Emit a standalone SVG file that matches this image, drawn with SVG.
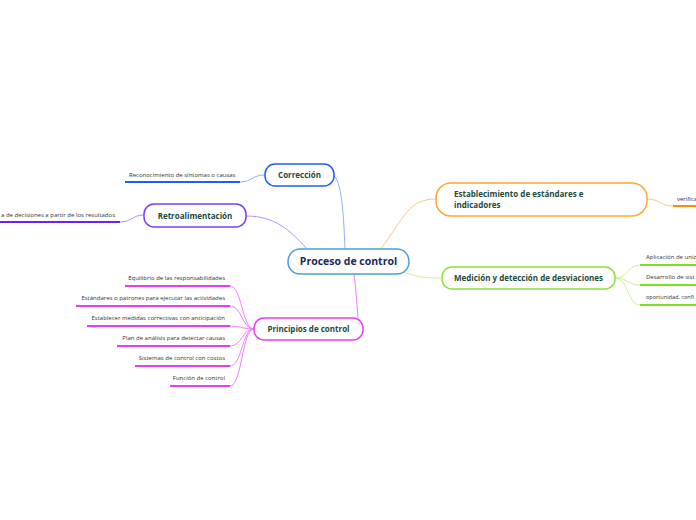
<svg xmlns="http://www.w3.org/2000/svg" width="696" height="520" viewBox="0 0 696 520">
<style>
text{font-family:"Open Sans","Noto Sans","Liberation Sans",sans-serif;}
.leaf{font-size:6px;fill:#333333;}
.node{font-size:8px;font-weight:bold;fill:#1d4a3a;}
.center{font-size:10.5px;font-weight:bold;fill:#1b2a55;}
.box{fill:#ffffff;stroke-width:1.5;}
.c{fill:none;stroke-width:1;}
.ul{fill:none;stroke-width:2;}
</style>
<rect width="696" height="520" fill="#ffffff"/>
<g id="connectors">
  <path class="c" stroke="#8fb0ff" d="M334 176 C343 182,344 230,345 249"/>
  <path class="c" stroke="#b98cff" d="M246 216 C275 216,290 230,307 249"/>
  <path class="c" stroke="#f27cff" d="M354 274 C356 290,357 305,358 318"/>
  <path class="c" stroke="#ffc77a" d="M381 249 C405 215,410 199,436 199"/>
  <path class="c" stroke="#c6f29a" d="M403 272 C420 278,430 278,442 278"/>
  <path class="c" stroke="#8fb0ff" d="M240 182 C252 182,252 175,265 175"/>
  <path class="c" stroke="#b98cff" d="M120 222 C132 222,132 215,144 215"/>
  <path class="c" stroke="#f27cff" d="M230 286 C242 286,242 329,254 329"/>
  <path class="c" stroke="#f27cff" d="M230 306 C242 306,242 329,254 329"/>
  <path class="c" stroke="#f27cff" d="M230 326 C242 326,242 329,254 329"/>
  <path class="c" stroke="#f27cff" d="M230 346 C242 346,242 329,254 329"/>
  <path class="c" stroke="#f27cff" d="M230 366 C242 366,242 329,254 329"/>
  <path class="c" stroke="#f27cff" d="M230 386 C242 386,242 329,254 329"/>
  <path class="c" stroke="#ffc77a" d="M647 199 C660 199,660 206,673 206"/>
  <path class="c" stroke="#c6f29a" d="M615 278 C628 278,628 265,640 265"/>
  <path class="c" stroke="#c6f29a" d="M615 278 C628 278,628 285,640 285"/>
  <path class="c" stroke="#c6f29a" d="M615 278 C628 278,628 305,640 305"/>
</g>
<g id="center">
  <rect class="box" x="288" y="249" width="121" height="25" rx="12" stroke="#4c9fd9"/>
  <text class="center" x="348.5" y="265" text-anchor="middle">Proceso de control</text>
</g>
<g id="correccion">
  <rect class="box" x="265" y="164" width="69" height="22" rx="10" stroke="#1f5cff"/>
  <text class="node" x="299.5" y="178" text-anchor="middle">Corrección</text>
</g>
<g id="correccion-leaf">
  <line class="ul" x1="125" y1="182" x2="240" y2="182" stroke="#1f5cff"/>
  <text class="leaf" x="129" y="177">Reconocimiento de síntomas o causas</text>
</g>
<g id="retroalimentacion">
  <rect class="box" x="144" y="204" width="102" height="23" rx="10" stroke="#7a3cff"/>
  <text class="node" x="195" y="218.5" text-anchor="middle">Retroalimentación</text>
</g>
<g id="retro-leaf">
  <line class="ul" x1="-2" y1="222" x2="120" y2="222" stroke="#6a1fff"/>
  <text class="leaf" x="115" y="217" text-anchor="end">a de decisiones a partir de los resultados</text>
</g>
<g id="principios">
  <rect class="box" x="254" y="318" width="109" height="22" rx="10" stroke="#e63cf5"/>
  <text class="node" x="308.5" y="332" text-anchor="middle">Principios de control</text>
</g>
<g id="principios-leaves">
  <line class="ul" x1="125" y1="286" x2="230" y2="286" stroke="#e63cf5"/>
  <text class="leaf" x="225" y="280" text-anchor="end">Equilibrio de las responsabilidades</text>
  <line class="ul" x1="76" y1="306" x2="230" y2="306" stroke="#e63cf5"/>
  <text class="leaf" x="225" y="300" text-anchor="end">Estándares o patrones para ejecutar las actividades</text>
  <line class="ul" x1="87" y1="326" x2="230" y2="326" stroke="#e63cf5"/>
  <text class="leaf" x="225" y="320" text-anchor="end">Establecer medidas correctivas con anticipación</text>
  <line class="ul" x1="117" y1="346" x2="230" y2="346" stroke="#e63cf5"/>
  <text class="leaf" x="225" y="340" text-anchor="end">Plan de análisis para detectar causas</text>
  <line class="ul" x1="135" y1="366" x2="230" y2="366" stroke="#e63cf5"/>
  <text class="leaf" x="225" y="360" text-anchor="end">Sistemas de control con costos</text>
  <line class="ul" x1="170" y1="386" x2="230" y2="386" stroke="#e63cf5"/>
  <text class="leaf" x="225" y="380" text-anchor="end">Función de control</text>
</g>
<g id="establecimiento">
  <rect class="box" x="436" y="183" width="211" height="33" rx="15" stroke="#ffa733"/>
  <text class="node" x="454" y="197">Establecimiento de estándares e</text>
  <text class="node" x="454" y="208">indicadores</text>
</g>
<g id="establecimiento-leaf">
  <line class="ul" x1="673" y1="206" x2="698" y2="206" stroke="#ff8c00"/>
  <text class="leaf" x="677" y="201">verifica</text>
</g>
<g id="medicion">
  <rect class="box" x="442" y="267" width="173" height="22" rx="10" stroke="#8fe03c"/>
  <text class="node" x="528.5" y="281" text-anchor="middle">Medición y detección de desviaciones</text>
</g>
<g id="medicion-leaves">
  <line class="ul" x1="640" y1="265" x2="698" y2="265" stroke="#7fe01f"/>
  <text class="leaf" x="646" y="259">Aplicación de unid</text>
  <line class="ul" x1="640" y1="285" x2="698" y2="285" stroke="#7fe01f"/>
  <text class="leaf" x="646" y="279">Desarrollo de sist</text>
  <line class="ul" x1="640" y1="305" x2="698" y2="305" stroke="#7fe01f"/>
  <text class="leaf" x="646" y="299" textLength="48" lengthAdjust="spacingAndGlyphs">oportunidad, confi</text>
</g>
</svg>
